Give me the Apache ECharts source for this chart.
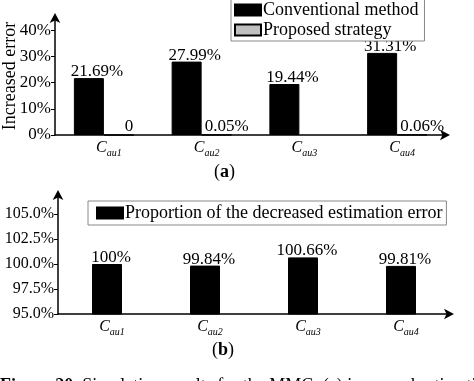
<!DOCTYPE html>
<html><head><meta charset="utf-8">
<script src="https://cdn.jsdelivr.net/npm/echarts@6/dist/echarts.min.js"></script>
<style>html,body{margin:0;padding:0;background:#fff}#c{width:474px;height:381px}</style>
</head><body><div id="c"></div>
<script>
const categories = ['au1', 'au2', 'au3', 'au4'];
const conventional = [21.69, 27.99, 19.44, 31.31];
const proposed = [0, 0.05, -0.13, 0.06];
const proportion = [100, 99.84, 100.66, 99.81];
const topTicks = [0, 10, 20, 30, 40];
const bottomTicks = [95, 97.5, 100, 102.5, 105];

const FONT = '"Liberation Serif", "DejaVu Serif", serif';
const chart = echarts.init(document.getElementById('c'), null, {renderer: 'canvas'});

const catLabel = {
  margin: 5,
  formatter: v => '{c|C}{s|' + v + '}',
  rich: {
    c: {fontFamily: FONT, fontStyle: 'italic', fontSize: 16, color: '#000', verticalAlign: 'bottom', padding: [0, 0, 0, 10]},
    s: {fontFamily: FONT, fontStyle: 'italic', fontSize: 10, color: '#000', verticalAlign: 'bottom', padding: [0, 0, -2, 0]}
  }
};
const axisLineStyle = {color: '#000', width: 1.5};

function pct(v) {
  if (v === 0) return '0';
  return Number.isInteger(v) ? v + '%' : v.toFixed(2) + '%';
}

chart.setOption({
  animation: false,
  textStyle: {fontFamily: FONT, color: '#000'},
  grid: [
    {left: 55, right: 28, top: 17, bottom: 246, outerBoundsMode: 'none', containLabel: false},
    {left: 58, right: 24, top: 194, bottom: 67, outerBoundsMode: 'none', containLabel: false}
  ],
  legend: [
    {
      orient: 'vertical', left: 231, top: -3, itemWidth: 26, itemHeight: 11, itemGap: 2, icon: 'rect',
      padding: [4, 6, 2, 3], borderColor: '#888', borderWidth: 1, backgroundColor: '#fff',
      textStyle: {fontFamily: FONT, fontSize: 18, color: '#000', padding: [0, 0, 0, -3]},
      data: ['Conventional method', 'Proposed strategy']
    },
    {
      orient: 'horizontal', left: 88, top: 201, itemWidth: 26, itemHeight: 11, icon: 'rect',
      padding: [3, 4, 3, 8], borderColor: '#888', borderWidth: 1, backgroundColor: '#fff',
      textStyle: {fontFamily: FONT, fontSize: 18, color: '#000', padding: [0, 0, 0, -3]},
      data: ['Proportion of the decreased estimation error']
    }
  ],
  xAxis: [
    {
      type: 'category', gridIndex: 0, data: categories,
      axisLine: {lineStyle: axisLineStyle, symbol: ['none', 'arrow'], symbolSize: [8, 10], symbolOffset: [0, 4]},
      axisTick: {alignWithLabel: true, length: 4, lineStyle: {color: '#000'}},
      axisLabel: catLabel
    },
    {
      type: 'category', gridIndex: 1, data: categories,
      axisLine: {lineStyle: axisLineStyle, symbol: ['none', 'arrow'], symbolSize: [8, 10], symbolOffset: [0, 4]},
      axisTick: {alignWithLabel: true, length: 4, lineStyle: {color: '#000'}},
      axisLabel: catLabel
    }
  ],
  yAxis: [
    {
      type: 'value', gridIndex: 0, min: 0, max: 45,
      name: 'Increased error', nameLocation: 'middle', nameGap: 36, nameRotate: 90, nameMoveOverlap: false,
      nameTextStyle: {fontFamily: FONT, fontSize: 18, color: '#000'},
      splitLine: {show: false},
      axisLine: {show: true, lineStyle: axisLineStyle, symbol: ['none', 'arrow'], symbolSize: [8, 10], symbolOffset: [0, 4]},
      axisTick: {show: true, length: 4, customValues: topTicks, lineStyle: {color: '#000'}},
      axisLabel: {customValues: topTicks, formatter: v => v + '%', fontFamily: FONT, fontSize: 17, color: '#000', margin: 4}
    },
    {
      type: 'value', gridIndex: 1, min: 95, max: 107,
      splitLine: {show: false},
      axisLine: {show: true, lineStyle: axisLineStyle, symbol: ['none', 'arrow'], symbolSize: [8, 10], symbolOffset: [0, 4]},
      axisTick: {show: true, length: 4, customValues: bottomTicks, lineStyle: {color: '#000'}},
      axisLabel: {customValues: bottomTicks, formatter: v => v.toFixed(1) + '%', fontFamily: FONT, fontSize: 16, color: '#000', margin: 4}
    }
  ],
  series: [
    {
      name: 'Conventional method', type: 'bar', xAxisIndex: 0, yAxisIndex: 0,
      data: conventional, barWidth: 30, barGap: '0%',
      itemStyle: {color: '#000', borderColor: '#000', borderWidth: 1},
      label: {show: true, position: 'top', distance: -2, offset: [8, 0], formatter: p => pct(p.value),
        fontFamily: FONT, fontSize: 17, color: '#000'}
    },
    {
      name: 'Proposed strategy', type: 'bar', xAxisIndex: 0, yAxisIndex: 0,
      data: proposed, barWidth: 30, barGap: '0%',
      itemStyle: {color: '#c0c0c0', borderColor: '#000', borderWidth: 1},
      label: {show: true, position: 'top', distance: -1, offset: [10, 0], formatter: p => pct(p.value),
        fontFamily: FONT, fontSize: 17, color: '#000'}
    },
    {
      name: 'Proportion of the decreased estimation error', type: 'bar', xAxisIndex: 1, yAxisIndex: 1,
      data: proportion, barWidth: 30,
      itemStyle: {color: '#000', borderColor: '#000', borderWidth: 1},
      label: {show: true, position: 'top', distance: -2, offset: [4, 0], formatter: p => pct(p.value),
        fontFamily: FONT, fontSize: 17, color: '#000'}
    }
  ],
  graphic: [
    {type: 'text', left: 214, top: 163, style: {text: '({b|a})', fontFamily: FONT, fontSize: 18, fill: '#000',
      rich: {b: {fontFamily: FONT, fontSize: 18, fontWeight: 'bold'}}}},
    {type: 'text', left: 212, top: 341, style: {text: '({b|b})', fontFamily: FONT, fontSize: 18, fill: '#000',
      rich: {b: {fontFamily: FONT, fontSize: 18, fontWeight: 'bold'}}}},
    {type: 'text', left: 0, top: 377, style: {text: '{b|Figure 20.} Simulation results for the MMC: (a) increased estimation time',
      fontFamily: FONT, fontSize: 18, fill: '#000',
      rich: {b: {fontFamily: FONT, fontSize: 18, fontWeight: 'bold'}}}}
  ]
});
</script></body></html>
